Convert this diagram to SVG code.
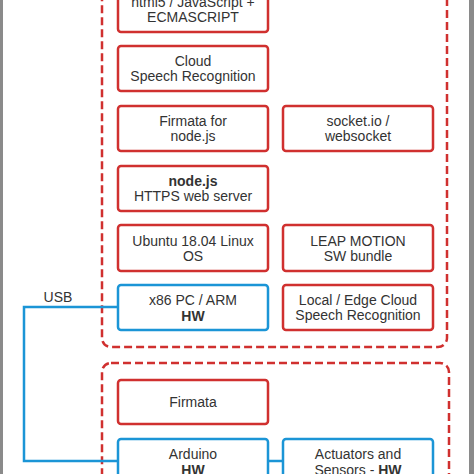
<svg xmlns="http://www.w3.org/2000/svg" width="474" height="474" viewBox="0 0 474 474">
<style>
.bg{fill:#fff}
.edge{fill:#8a8a8a}
.grp{fill:none;stroke:#d0302f;stroke-width:2.5;stroke-dasharray:8 4}
.sw{fill:#fff;stroke:#d0302f;stroke-width:2.5}
.hw{fill:#fff;stroke:#1b95d6;stroke-width:2.5}
.wire{fill:none;stroke:#1b95d6;stroke-width:2.5}
text{font-family:"Liberation Sans",Arial,sans-serif;font-size:14px;fill:#333;text-anchor:middle}
.b{font-weight:bold}
</style>
<rect class="bg" x="0" y="0" width="474" height="474"/>
<rect class="edge" x="0" y="0" width="3" height="474"/>
<rect class="edge" x="469" y="0" width="5" height="474"/>

<g id="groups">
<rect class="grp" x="102" y="-30" width="345" height="377" rx="9"/>
<rect class="grp" x="102" y="363" width="347" height="140" rx="9"/>
</g>

<g id="connectors">
<polyline class="wire" points="118,307 24,307 24,461 118,461"/>
<line class="wire" x1="268" y1="461" x2="283" y2="461"/>
<text x="58" y="302">USB</text>
</g>

<g id="html5">
<rect class="sw" x="118" y="-13" width="150" height="45" rx="3"/>
<text x="193" y="7">html5 / JavaScript +</text>
<text x="193" y="22">ECMASCRIPT</text>
</g>
<g id="cloud">
<rect class="sw" x="118" y="46" width="150" height="45" rx="3"/>
<text x="193" y="66">Cloud</text>
<text x="193" y="81">Speech Recognition</text>
</g>
<g id="firmata-node">
<rect class="sw" x="118" y="106" width="150" height="45" rx="3"/>
<text x="193" y="126">Firmata for</text>
<text x="193" y="141">node.js</text>
</g>
<g id="socketio">
<rect class="sw" x="283" y="106" width="150" height="45" rx="3"/>
<text x="358" y="126">socket.io /</text>
<text x="358" y="141">websocket</text>
</g>
<g id="nodejs">
<rect class="sw" x="118" y="166" width="150" height="45" rx="3"/>
<text class="b" x="193" y="186">node.js</text>
<text x="193" y="201">HTTPS web server</text>
</g>
<g id="ubuntu">
<rect class="sw" x="118" y="225" width="150" height="46" rx="3"/>
<text x="193" y="245.5">Ubuntu 18.04 Linux</text>
<text x="193" y="260.5">OS</text>
</g>
<g id="leap">
<rect class="sw" x="283" y="225" width="150" height="46" rx="3"/>
<text x="358" y="245.5">LEAP MOTION</text>
<text x="358" y="260.5">SW bundle</text>
</g>
<g id="x86">
<rect class="hw" x="118" y="285" width="150" height="45" rx="3"/>
<text x="193" y="305">x86 PC / ARM</text>
<text class="b" x="193" y="321">HW</text>
</g>
<g id="local">
<rect class="sw" x="283" y="285" width="150" height="45" rx="3"/>
<text x="358" y="305">Local / Edge Cloud</text>
<text x="358" y="320">Speech Recognition</text>
</g>
<g id="firmata">
<rect class="sw" x="118" y="380" width="150" height="44" rx="3"/>
<text x="193" y="407">Firmata</text>
</g>
<g id="arduino">
<rect class="hw" x="118" y="439" width="150" height="45" rx="3"/>
<text x="193" y="459">Arduino</text>
<text class="b" x="193" y="475">HW</text>
</g>
<g id="actuators">
<rect class="hw" x="283" y="439" width="150" height="45" rx="3"/>
<text x="358" y="459">Actuators and</text>
<text x="358" y="475">Sensors - <tspan class="b">HW</tspan></text>
</g>
</svg>
